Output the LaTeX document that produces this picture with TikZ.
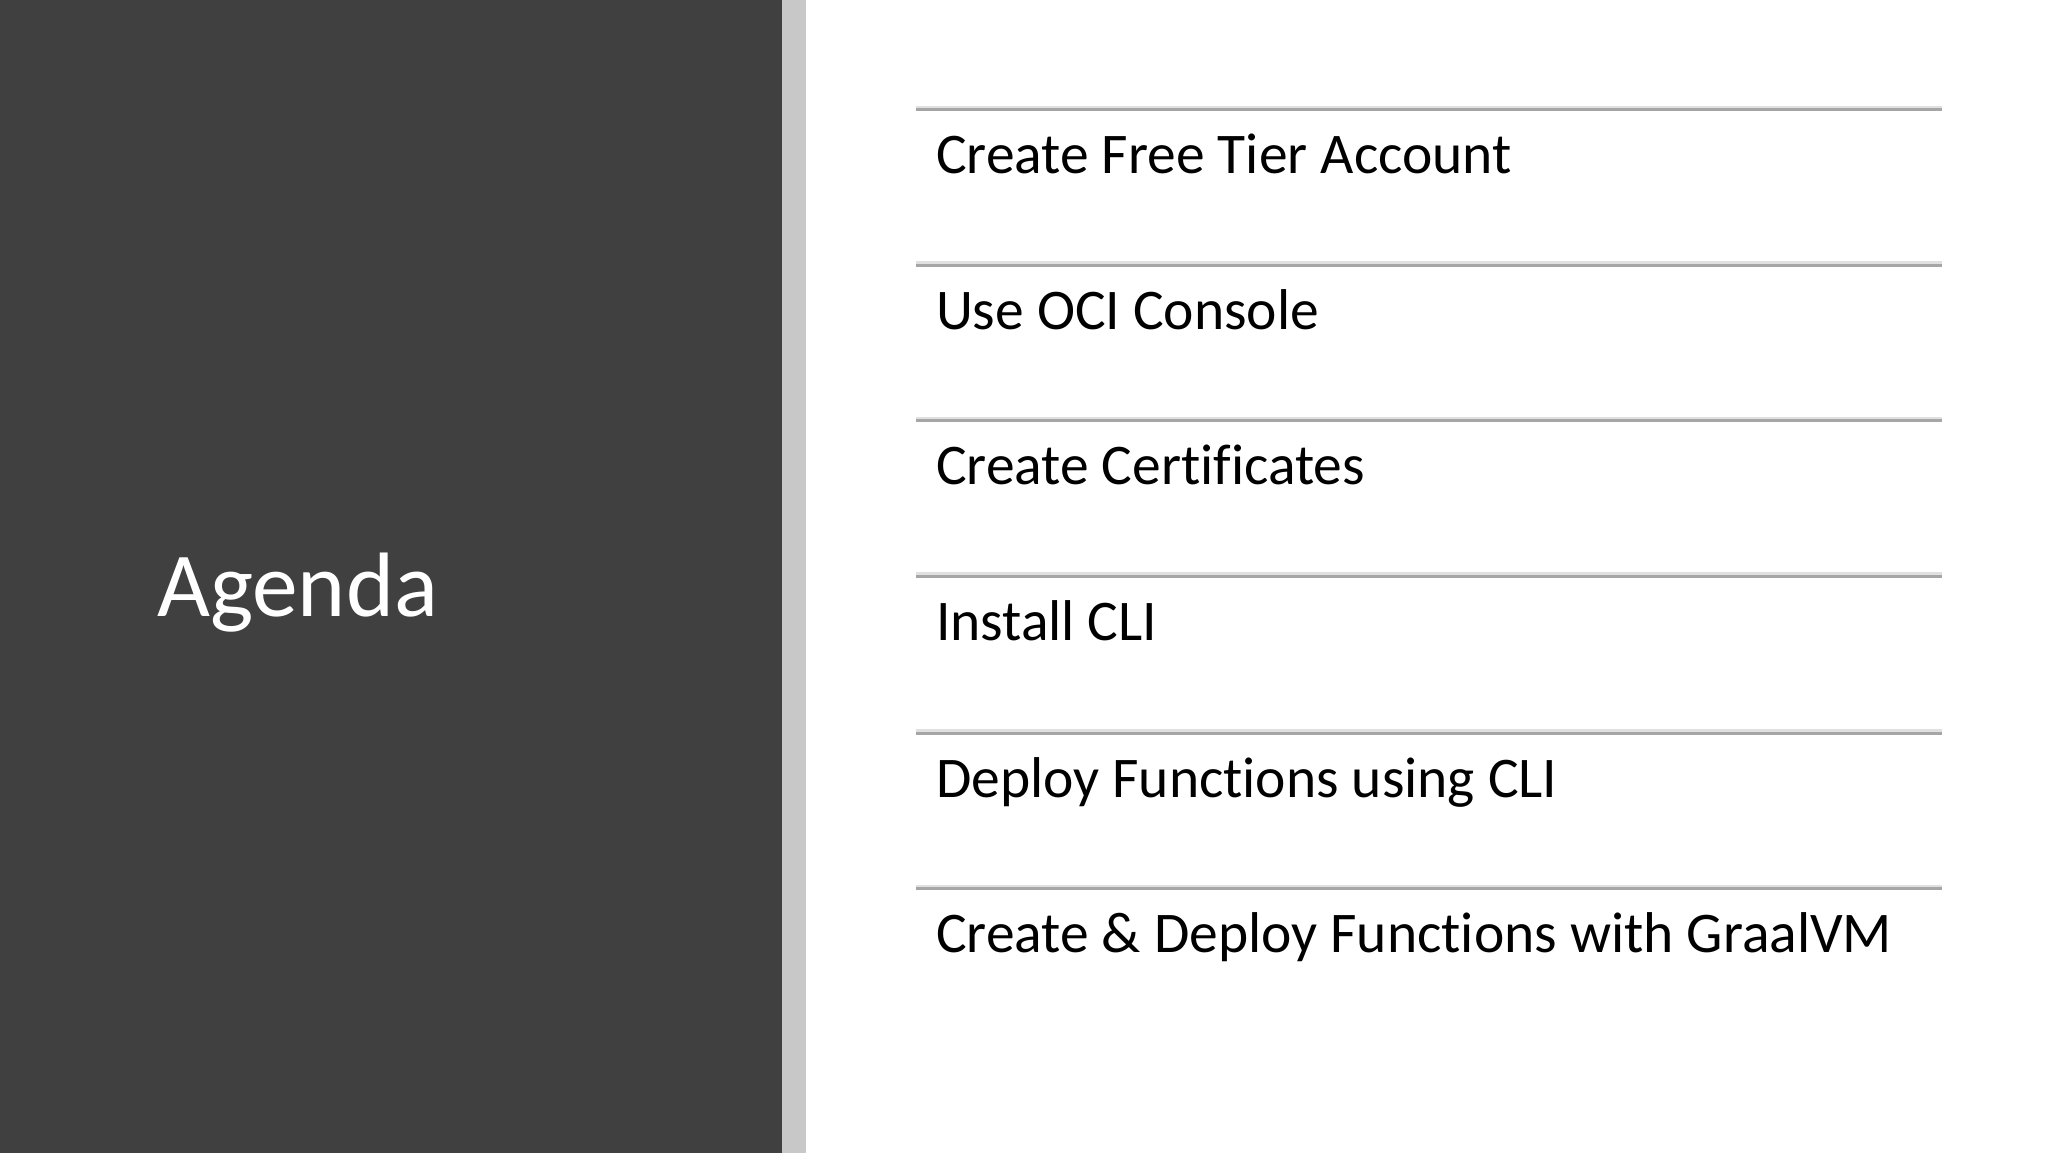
\documentclass[tikz,border=0pt]{standalone}
\usepackage{fontspec}
\setmainfont{Carlito}[Ligatures={NoCommon}]
\definecolor{panel}{HTML}{404040}
\definecolor{strip}{HTML}{C8C8C8}
\begin{document}
\begin{tikzpicture}[x=1pt,y=-1pt,
  sepline/.style={draw=black!35,line width=2.5pt},
  sepshadow/.style={draw=black!12,line width=2pt},
  item/.style={anchor=base west,inner sep=0pt,font=\fontsize{44}{52}\selectfont,text=black}]
\useasboundingbox (0,0) rectangle (1567,882);
\fill[white] (0,0) rectangle (1567,882);
\fill[panel] (0,0) rectangle (598,882);
\fill[strip] (598,0) rectangle (617,882);
\node[anchor=base west,inner sep=0pt,text=white,font=\fontsize{70}{76}\selectfont] (title) at (120,472) {Agenda};
\foreach \y/\t [count=\i] in {84/Create Free Tier Account,203/Use OCI Console,322/Create Certificates,441/Install CLI,561/Deploy Functions using CLI,680/Create \& Deploy Functions with GraalVM}{
  \coordinate (l\i a) at (701,\y);
  \coordinate (l\i b) at (1486,\y);
  \draw[sepshadow] ([yshift=2pt]l\i a) -- ([yshift=2pt]l\i b);
  \draw[sepline] (l\i a) -- (l\i b);
  \node[item] (t\i) at (716,\y+49) {\t};
}
\end{tikzpicture}
\end{document}
